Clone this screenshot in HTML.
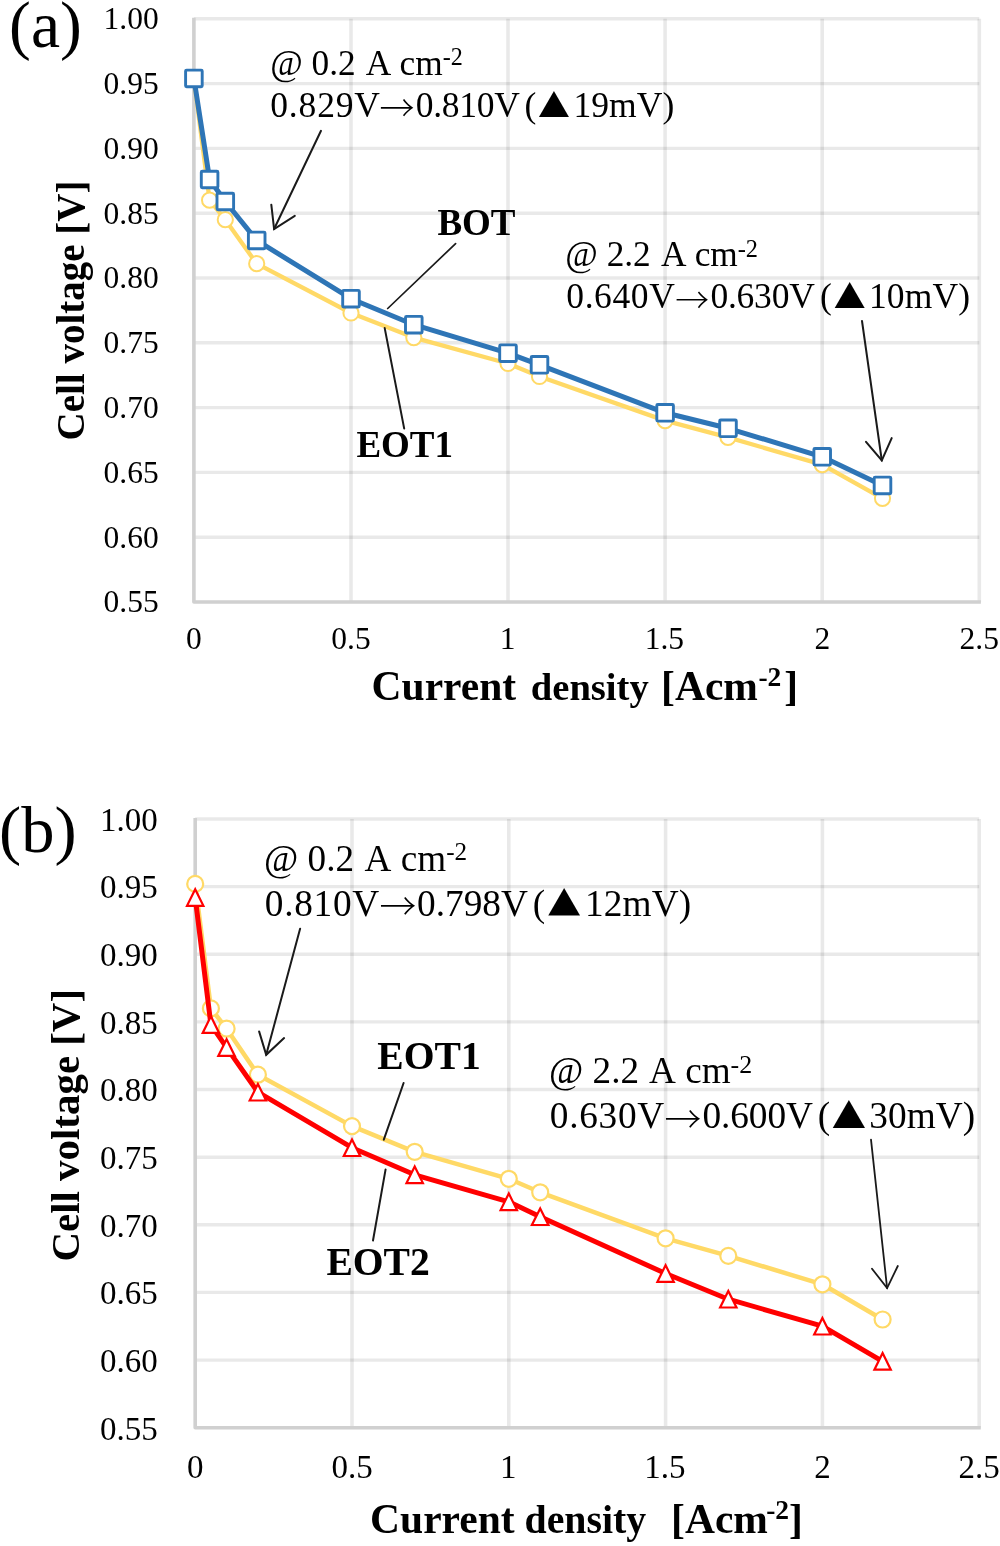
<!DOCTYPE html><html><head><meta charset="utf-8"><title>Cell voltage vs current density</title><style>html,body{margin:0;padding:0;background:#fff;width:1000px;height:1546px;overflow:hidden}svg{display:block;filter:blur(0.4px)}</style></head><body>
<svg width="1000" height="1546" viewBox="0 0 1000 1546" font-family="'Liberation Serif', 'Times New Roman', serif" fill="#000">
<rect width="1000" height="1546" fill="#fff"/>
<line x1="193.9" y1="18.8" x2="979.3" y2="18.8" stroke="#000" stroke-opacity="0.088" stroke-width="3.4"/>
<line x1="193.9" y1="83.6" x2="979.3" y2="83.6" stroke="#000" stroke-opacity="0.088" stroke-width="3.4"/>
<line x1="193.9" y1="148.4" x2="979.3" y2="148.4" stroke="#000" stroke-opacity="0.088" stroke-width="3.4"/>
<line x1="193.9" y1="213.2" x2="979.3" y2="213.2" stroke="#000" stroke-opacity="0.088" stroke-width="3.4"/>
<line x1="193.9" y1="278.0" x2="979.3" y2="278.0" stroke="#000" stroke-opacity="0.088" stroke-width="3.4"/>
<line x1="193.9" y1="342.8" x2="979.3" y2="342.8" stroke="#000" stroke-opacity="0.088" stroke-width="3.4"/>
<line x1="193.9" y1="407.6" x2="979.3" y2="407.6" stroke="#000" stroke-opacity="0.088" stroke-width="3.4"/>
<line x1="193.9" y1="472.4" x2="979.3" y2="472.4" stroke="#000" stroke-opacity="0.088" stroke-width="3.4"/>
<line x1="193.9" y1="537.2" x2="979.3" y2="537.2" stroke="#000" stroke-opacity="0.088" stroke-width="3.4"/>
<line x1="351.0" y1="18.8" x2="351.0" y2="602.0" stroke="#000" stroke-opacity="0.085" stroke-width="3.6"/>
<line x1="508.0" y1="18.8" x2="508.0" y2="602.0" stroke="#000" stroke-opacity="0.085" stroke-width="3.6"/>
<line x1="665.1" y1="18.8" x2="665.1" y2="602.0" stroke="#000" stroke-opacity="0.085" stroke-width="3.6"/>
<line x1="822.2" y1="18.8" x2="822.2" y2="602.0" stroke="#000" stroke-opacity="0.085" stroke-width="3.6"/>
<line x1="979.3" y1="18.8" x2="979.3" y2="602.0" stroke="#000" stroke-opacity="0.085" stroke-width="3.6"/>
<path d="M193.9 17.8V602.0H980.9" fill="none" stroke="#D0D0D0" stroke-width="3.6" stroke-linejoin="round"/>
<text x="103.5" y="29.1" font-size="31.5">1.00</text>
<text x="103.5" y="93.9" font-size="31.5">0.95</text>
<text x="103.5" y="158.7" font-size="31.5">0.90</text>
<text x="103.5" y="223.5" font-size="31.5">0.85</text>
<text x="103.5" y="288.3" font-size="31.5">0.80</text>
<text x="103.5" y="353.1" font-size="31.5">0.75</text>
<text x="103.5" y="417.9" font-size="31.5">0.70</text>
<text x="103.5" y="482.7" font-size="31.5">0.65</text>
<text x="103.5" y="547.5" font-size="31.5">0.60</text>
<text x="103.5" y="612.3" font-size="31.5">0.55</text>
<text x="186.0" y="649.2" font-size="31.5">0</text>
<text x="331.3" y="649.2" font-size="31.5">0.5</text>
<text x="499.7" y="649.2" font-size="31.5">1</text>
<text x="644.7" y="649.2" font-size="31.5">1.5</text>
<text x="814.5" y="649.2" font-size="31.5">2</text>
<text x="959.5" y="649.2" font-size="31.5">2.5</text>
<polyline points="193.9,78.4 209.6,200.2 225.3,219.7 256.7,263.7 351.0,313.0 413.8,337.6 508.0,363.5 539.5,376.5 665.1,420.6 728.0,437.4 822.2,464.6 882.5,498.3" fill="none" stroke="#FFD966" stroke-width="4.3" stroke-linejoin="round"/>
<circle cx="193.9" cy="78.4" r="7.6" fill="#fff" stroke="#FFD966" stroke-width="2.0"/>
<circle cx="209.6" cy="200.2" r="7.6" fill="#fff" stroke="#FFD966" stroke-width="2.0"/>
<circle cx="225.3" cy="219.7" r="7.6" fill="#fff" stroke="#FFD966" stroke-width="2.0"/>
<circle cx="256.7" cy="263.7" r="7.6" fill="#fff" stroke="#FFD966" stroke-width="2.0"/>
<circle cx="351.0" cy="313.0" r="7.6" fill="#fff" stroke="#FFD966" stroke-width="2.0"/>
<circle cx="413.8" cy="337.6" r="7.6" fill="#fff" stroke="#FFD966" stroke-width="2.0"/>
<circle cx="508.0" cy="363.5" r="7.6" fill="#fff" stroke="#FFD966" stroke-width="2.0"/>
<circle cx="539.5" cy="376.5" r="7.6" fill="#fff" stroke="#FFD966" stroke-width="2.0"/>
<circle cx="665.1" cy="420.6" r="7.6" fill="#fff" stroke="#FFD966" stroke-width="2.0"/>
<circle cx="728.0" cy="437.4" r="7.6" fill="#fff" stroke="#FFD966" stroke-width="2.0"/>
<circle cx="822.2" cy="464.6" r="7.6" fill="#fff" stroke="#FFD966" stroke-width="2.0"/>
<circle cx="882.5" cy="498.3" r="7.6" fill="#fff" stroke="#FFD966" stroke-width="2.0"/>
<polyline points="193.9,78.4 209.6,179.5 225.3,201.5 256.7,240.4 351.0,298.7 413.8,324.7 508.0,353.2 539.5,364.8 665.1,412.8 728.0,428.3 822.2,456.8 882.5,485.4" fill="none" stroke="#2E75B6" stroke-width="5" stroke-linejoin="round"/>
<rect x="185.6" y="70.1" width="16.6" height="16.6" rx="1" fill="#fff" stroke="#2E75B6" stroke-width="2.9"/>
<rect x="201.3" y="171.2" width="16.6" height="16.6" rx="1" fill="#fff" stroke="#2E75B6" stroke-width="2.9"/>
<rect x="217.0" y="193.2" width="16.6" height="16.6" rx="1" fill="#fff" stroke="#2E75B6" stroke-width="2.9"/>
<rect x="248.4" y="232.1" width="16.6" height="16.6" rx="1" fill="#fff" stroke="#2E75B6" stroke-width="2.9"/>
<rect x="342.7" y="290.4" width="16.6" height="16.6" rx="1" fill="#fff" stroke="#2E75B6" stroke-width="2.9"/>
<rect x="405.5" y="316.4" width="16.6" height="16.6" rx="1" fill="#fff" stroke="#2E75B6" stroke-width="2.9"/>
<rect x="499.7" y="344.9" width="16.6" height="16.6" rx="1" fill="#fff" stroke="#2E75B6" stroke-width="2.9"/>
<rect x="531.2" y="356.5" width="16.6" height="16.6" rx="1" fill="#fff" stroke="#2E75B6" stroke-width="2.9"/>
<rect x="656.8" y="404.5" width="16.6" height="16.6" rx="1" fill="#fff" stroke="#2E75B6" stroke-width="2.9"/>
<rect x="719.7" y="420.0" width="16.6" height="16.6" rx="1" fill="#fff" stroke="#2E75B6" stroke-width="2.9"/>
<rect x="813.9" y="448.5" width="16.6" height="16.6" rx="1" fill="#fff" stroke="#2E75B6" stroke-width="2.9"/>
<rect x="874.2" y="477.1" width="16.6" height="16.6" rx="1" fill="#fff" stroke="#2E75B6" stroke-width="2.9"/>
<text x="9.1" y="46.8" font-size="65.5">(a)</text>
<text transform="translate(84.3,440.5) rotate(-90)" font-size="39" font-weight="bold">Cell voltage [V]</text>
<text font-size="41.5" font-weight="bold"><tspan x="371.6" y="699.8">Current</tspan><tspan x="530.8" y="699.8" font-size="38.6">density</tspan><tspan x="661.1" y="699.8">[Acm</tspan><tspan x="758.4" y="685.8" font-size="27.5">-2</tspan><tspan x="784.2" y="699.8">]</tspan></text>
<text font-size="35.3"><tspan x="270.2" y="74.6">@ 0.2</tspan><tspan x="365.8" y="74.6">A</tspan><tspan x="399.6" y="74.6">cm</tspan><tspan x="442.8" y="64.9" font-size="24.5" textLength="20.1" lengthAdjust="spacingAndGlyphs">-2</tspan></text>
<text font-size="35.5"><tspan x="270.2" y="116.6" textLength="109.8" lengthAdjust="spacing">0.829V</tspan><tspan x="379.4" y="121.1" font-family="'Noto Serif CJK JP', 'Liberation Serif', serif" font-weight="600" font-size="35.0">→</tspan><tspan x="415.8" y="116.6" textLength="104.1" lengthAdjust="spacing">0.810V</tspan><tspan x="524.6" y="116.6">(</tspan><tspan x="538.0" y="116.6" font-family="'Noto Sans CJK JP', 'Liberation Serif', sans-serif" font-size="31.9">▲</tspan><tspan x="573.4" y="116.6" textLength="101.0" lengthAdjust="spacing">19mV)</tspan></text>
<text font-size="35.3"><tspan x="565.3" y="266.3">@ 2.2</tspan><tspan x="660.9" y="266.3">A</tspan><tspan x="694.7" y="266.3">cm</tspan><tspan x="737.7" y="256.6" font-size="24.5" textLength="20.3" lengthAdjust="spacingAndGlyphs">-2</tspan></text>
<text font-size="35.5"><tspan x="566.3" y="308.3" textLength="108.5" lengthAdjust="spacing">0.640V</tspan><tspan x="675.2" y="312.8" font-family="'Noto Serif CJK JP', 'Liberation Serif', serif" font-weight="600" font-size="33.8">→</tspan><tspan x="710.4" y="308.3" textLength="104.4" lengthAdjust="spacing">0.630V</tspan><tspan x="820.0" y="308.3">(</tspan><tspan x="833.8" y="308.3" font-family="'Noto Sans CJK JP', 'Liberation Serif', sans-serif" font-size="31.9">▲</tspan><tspan x="868.9" y="308.3" textLength="101.2" lengthAdjust="spacing">10mV)</tspan></text>
<text x="437.4" y="235.4" font-size="37" font-weight="bold">BOT</text>
<text x="356.4" y="457.4" font-size="37" font-weight="bold">EOT1</text>
<line x1="321" y1="130.8" x2="274.1" y2="229" stroke="#1a1a1a" stroke-width="2.0" stroke-linecap="round"/>
<path d="M294.8 215.8L274.1 229L271.3 204.7" fill="none" stroke="#1a1a1a" stroke-width="2.0" stroke-linecap="round" stroke-linejoin="miter"/>
<line x1="862" y1="321" x2="881.8" y2="460.5" stroke="#1a1a1a" stroke-width="2.0" stroke-linecap="round"/>
<path d="M891.7 438.1L881.8 460.5L866.0 441.8" fill="none" stroke="#1a1a1a" stroke-width="2.0" stroke-linecap="round" stroke-linejoin="miter"/>
<line x1="455.6" y1="243.6" x2="387.7" y2="308.5" stroke="#1a1a1a" stroke-width="1.7" stroke-linecap="round"/>
<line x1="384.7" y1="328.1" x2="404.2" y2="428.6" stroke="#1a1a1a" stroke-width="2.0" stroke-linecap="round"/>
<line x1="195.2" y1="819.0" x2="979.2" y2="819.0" stroke="#000" stroke-opacity="0.088" stroke-width="3.4"/>
<line x1="195.2" y1="886.6" x2="979.2" y2="886.6" stroke="#000" stroke-opacity="0.088" stroke-width="3.4"/>
<line x1="195.2" y1="954.3" x2="979.2" y2="954.3" stroke="#000" stroke-opacity="0.088" stroke-width="3.4"/>
<line x1="195.2" y1="1021.9" x2="979.2" y2="1021.9" stroke="#000" stroke-opacity="0.088" stroke-width="3.4"/>
<line x1="195.2" y1="1089.5" x2="979.2" y2="1089.5" stroke="#000" stroke-opacity="0.088" stroke-width="3.4"/>
<line x1="195.2" y1="1157.2" x2="979.2" y2="1157.2" stroke="#000" stroke-opacity="0.088" stroke-width="3.4"/>
<line x1="195.2" y1="1224.8" x2="979.2" y2="1224.8" stroke="#000" stroke-opacity="0.088" stroke-width="3.4"/>
<line x1="195.2" y1="1292.4" x2="979.2" y2="1292.4" stroke="#000" stroke-opacity="0.088" stroke-width="3.4"/>
<line x1="195.2" y1="1360.1" x2="979.2" y2="1360.1" stroke="#000" stroke-opacity="0.088" stroke-width="3.4"/>
<line x1="352.0" y1="819.0" x2="352.0" y2="1427.7" stroke="#000" stroke-opacity="0.085" stroke-width="3.6"/>
<line x1="508.8" y1="819.0" x2="508.8" y2="1427.7" stroke="#000" stroke-opacity="0.085" stroke-width="3.6"/>
<line x1="665.6" y1="819.0" x2="665.6" y2="1427.7" stroke="#000" stroke-opacity="0.085" stroke-width="3.6"/>
<line x1="822.4" y1="819.0" x2="822.4" y2="1427.7" stroke="#000" stroke-opacity="0.085" stroke-width="3.6"/>
<line x1="979.2" y1="819.0" x2="979.2" y2="1427.7" stroke="#000" stroke-opacity="0.085" stroke-width="3.6"/>
<path d="M195.2 818.0V1427.7H980.8" fill="none" stroke="#D0D0D0" stroke-width="3.6" stroke-linejoin="round"/>
<text x="100.0" y="830.8" font-size="33">1.00</text>
<text x="100.0" y="898.4" font-size="33">0.95</text>
<text x="100.0" y="966.1" font-size="33">0.90</text>
<text x="100.0" y="1033.7" font-size="33">0.85</text>
<text x="100.0" y="1101.3" font-size="33">0.80</text>
<text x="100.0" y="1169.0" font-size="33">0.75</text>
<text x="100.0" y="1236.6" font-size="33">0.70</text>
<text x="100.0" y="1304.2" font-size="33">0.65</text>
<text x="100.0" y="1371.9" font-size="33">0.60</text>
<text x="100.0" y="1439.5" font-size="33">0.55</text>
<text x="186.9" y="1477.5" font-size="33">0</text>
<text x="331.4" y="1477.5" font-size="33">0.5</text>
<text x="500.1" y="1477.5" font-size="33">1</text>
<text x="644.2" y="1477.5" font-size="33">1.5</text>
<text x="814.3" y="1477.5" font-size="33">2</text>
<text x="958.5" y="1477.5" font-size="33">2.5</text>
<polyline points="195.2,883.9 210.9,1008.4 226.6,1028.7 257.9,1074.7 352.0,1126.1 414.7,1151.8 508.8,1178.8 540.2,1192.3 665.6,1238.3 728.3,1255.9 822.4,1284.3 882.6,1319.5" fill="none" stroke="#FFD966" stroke-width="4.5" stroke-linejoin="round"/>
<circle cx="195.2" cy="883.9" r="8.0" fill="#fff" stroke="#FFD966" stroke-width="2.2"/>
<circle cx="210.9" cy="1008.4" r="8.0" fill="#fff" stroke="#FFD966" stroke-width="2.2"/>
<circle cx="226.6" cy="1028.7" r="8.0" fill="#fff" stroke="#FFD966" stroke-width="2.2"/>
<circle cx="257.9" cy="1074.7" r="8.0" fill="#fff" stroke="#FFD966" stroke-width="2.2"/>
<circle cx="352.0" cy="1126.1" r="8.0" fill="#fff" stroke="#FFD966" stroke-width="2.2"/>
<circle cx="414.7" cy="1151.8" r="8.0" fill="#fff" stroke="#FFD966" stroke-width="2.2"/>
<circle cx="508.8" cy="1178.8" r="8.0" fill="#fff" stroke="#FFD966" stroke-width="2.2"/>
<circle cx="540.2" cy="1192.3" r="8.0" fill="#fff" stroke="#FFD966" stroke-width="2.2"/>
<circle cx="665.6" cy="1238.3" r="8.0" fill="#fff" stroke="#FFD966" stroke-width="2.2"/>
<circle cx="728.3" cy="1255.9" r="8.0" fill="#fff" stroke="#FFD966" stroke-width="2.2"/>
<circle cx="822.4" cy="1284.3" r="8.0" fill="#fff" stroke="#FFD966" stroke-width="2.2"/>
<circle cx="882.6" cy="1319.5" r="8.0" fill="#fff" stroke="#FFD966" stroke-width="2.2"/>
<polyline points="195.2,897.5 210.9,1024.6 226.6,1047.6 257.9,1092.2 352.0,1147.7 414.7,1174.8 508.8,1201.8 540.2,1216.7 665.6,1273.5 728.3,1299.2 822.4,1326.2 882.6,1361.4" fill="none" stroke="#FF0000" stroke-width="5" stroke-linejoin="round"/>
<polygon points="195.2,889.2 203.4,905.8 187.0,905.8" fill="#fff" stroke="#FF0000" stroke-width="2.2" stroke-linejoin="miter"/>
<polygon points="210.9,1016.3 219.1,1032.9 202.7,1032.9" fill="#fff" stroke="#FF0000" stroke-width="2.2" stroke-linejoin="miter"/>
<polygon points="226.6,1039.3 234.8,1055.9 218.3,1055.9" fill="#fff" stroke="#FF0000" stroke-width="2.2" stroke-linejoin="miter"/>
<polygon points="257.9,1083.9 266.1,1100.5 249.7,1100.5" fill="#fff" stroke="#FF0000" stroke-width="2.2" stroke-linejoin="miter"/>
<polygon points="352.0,1139.4 360.2,1156.0 343.8,1156.0" fill="#fff" stroke="#FF0000" stroke-width="2.2" stroke-linejoin="miter"/>
<polygon points="414.7,1166.5 422.9,1183.1 406.5,1183.1" fill="#fff" stroke="#FF0000" stroke-width="2.2" stroke-linejoin="miter"/>
<polygon points="508.8,1193.5 517.0,1210.1 500.6,1210.1" fill="#fff" stroke="#FF0000" stroke-width="2.2" stroke-linejoin="miter"/>
<polygon points="540.2,1208.4 548.4,1225.0 531.9,1225.0" fill="#fff" stroke="#FF0000" stroke-width="2.2" stroke-linejoin="miter"/>
<polygon points="665.6,1265.2 673.8,1281.8 657.4,1281.8" fill="#fff" stroke="#FF0000" stroke-width="2.2" stroke-linejoin="miter"/>
<polygon points="728.3,1290.9 736.5,1307.5 720.1,1307.5" fill="#fff" stroke="#FF0000" stroke-width="2.2" stroke-linejoin="miter"/>
<polygon points="822.4,1318.0 830.6,1334.5 814.2,1334.5" fill="#fff" stroke="#FF0000" stroke-width="2.2" stroke-linejoin="miter"/>
<polygon points="882.6,1353.1 890.8,1369.7 874.4,1369.7" fill="#fff" stroke="#FF0000" stroke-width="2.2" stroke-linejoin="miter"/>
<text x="-0.9" y="851.8" font-size="66.5">(b)</text>
<text transform="translate(79.2,1261.5) rotate(-90)" font-size="40.9" font-weight="bold">Cell voltage [V]</text>
<text font-size="41.5" font-weight="bold"><tspan x="370.1" y="1532.5">Current</tspan><tspan x="524.5" y="1532.5" font-size="39.8">density</tspan><tspan x="671.1" y="1532.5">[Acm</tspan><tspan x="766.2" y="1519.0" font-size="27.5">-2</tspan><tspan x="788.9" y="1532.5">]</tspan></text>
<text font-size="37.2"><tspan x="264.0" y="870.7">@ 0.2</tspan><tspan x="364.6" y="870.7">A</tspan><tspan x="400.8" y="870.7">cm</tspan><tspan x="446.2" y="859.9" font-size="26" textLength="21.0" lengthAdjust="spacingAndGlyphs">-2</tspan></text>
<text font-size="37.3"><tspan x="264.8" y="915.6" textLength="114.4" lengthAdjust="spacing">0.810V</tspan><tspan x="379.5" y="920.4" font-family="'Noto Serif CJK JP', 'Liberation Serif', serif" font-weight="600" font-size="36.8">→</tspan><tspan x="417.0" y="915.6" textLength="110.9" lengthAdjust="spacing">0.798V</tspan><tspan x="532.8" y="915.6">(</tspan><tspan x="547.2" y="915.6" font-family="'Noto Sans CJK JP', 'Liberation Serif', sans-serif" font-size="33.8">▲</tspan><tspan x="585.1" y="915.6" textLength="106.1" lengthAdjust="spacing">12mV)</tspan></text>
<text font-size="37.2"><tspan x="549.0" y="1083.4">@ 2.2</tspan><tspan x="649.0" y="1083.4">A</tspan><tspan x="685.2" y="1083.4">cm</tspan><tspan x="730.6" y="1072.6" font-size="26" textLength="21.6" lengthAdjust="spacingAndGlyphs">-2</tspan></text>
<text font-size="37.3"><tspan x="549.8" y="1128.0" textLength="114.4" lengthAdjust="spacing">0.630V</tspan><tspan x="664.5" y="1132.8" font-family="'Noto Serif CJK JP', 'Liberation Serif', serif" font-weight="600" font-size="36.8">→</tspan><tspan x="702.5" y="1128.0" textLength="110.4" lengthAdjust="spacing">0.600V</tspan><tspan x="817.8" y="1128.0">(</tspan><tspan x="831.7" y="1128.0" font-family="'Noto Sans CJK JP', 'Liberation Serif', sans-serif" font-size="34.3">▲</tspan><tspan x="869.3" y="1128.0" textLength="105.8" lengthAdjust="spacing">30mV)</tspan></text>
<text x="377.3" y="1069.4" font-size="39.6" font-weight="bold">EOT1</text>
<text x="326.4" y="1275.0" font-size="39.6" font-weight="bold">EOT2</text>
<line x1="300.1" y1="928.7" x2="266.2" y2="1054.8" stroke="#1a1a1a" stroke-width="2.0" stroke-linecap="round"/>
<path d="M284.1 1038.1L266.2 1054.8L259.1 1031.4" fill="none" stroke="#1a1a1a" stroke-width="2.0" stroke-linecap="round" stroke-linejoin="miter"/>
<line x1="871" y1="1139.7" x2="887.1" y2="1288.1" stroke="#1a1a1a" stroke-width="1.8" stroke-linecap="round"/>
<path d="M897.8 1266.0L887.1 1288.1L872.0 1268.8" fill="none" stroke="#1a1a1a" stroke-width="1.8" stroke-linecap="round" stroke-linejoin="miter"/>
<line x1="403.6" y1="1083" x2="383.8" y2="1139.7" stroke="#1a1a1a" stroke-width="2.0" stroke-linecap="round"/>
<line x1="385.6" y1="1169.4" x2="373" y2="1240.5" stroke="#1a1a1a" stroke-width="2.0" stroke-linecap="round"/>
</svg></body></html>
